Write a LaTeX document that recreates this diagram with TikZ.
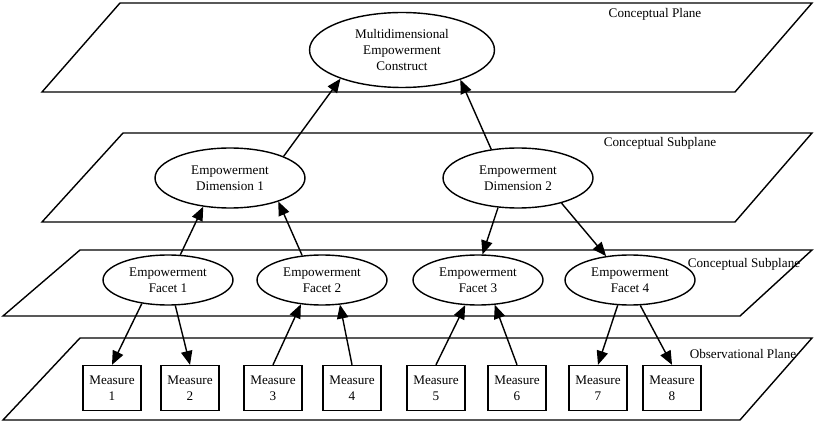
\documentclass[tikz,border=0pt]{standalone}
\usepackage{fontspec}
\setmainfont{Liberation Serif}
\usetikzlibrary{shapes,arrows}
\usetikzlibrary{positioning}

\tikzset{
  plane/.style={thick,fill=white},
  construct/.style={draw,thick,ellipse,align=center,inner sep=0pt,font=\fontsize{7.5}{9}\selectfont},
  measure/.style={draw,thick,rectangle,align=center,minimum width=1.16cm,minimum height=0.9cm,inner sep=1pt,font=\fontsize{7.5}{9}\selectfont},
  planelabel/.style={font=\fontsize{7.5}{9}\selectfont},
  link/.style={thick,-triangle 45}
}

\begin{document}
\begin{tikzpicture}[x=0.02cm,y=-0.02cm]
\useasboundingbox (0,0) rectangle (815,422);

% planes
\draw[plane] (120,3) -- (812,3) -- (735,92) -- (42,92) -- cycle;
\node[planelabel] (p1) at (655,14) {Conceptual Plane};
\draw[plane] (123,133) -- (812,133) -- (735,222) -- (42,222) -- cycle;
\node[planelabel] (p2) at (660,143) {Conceptual Subplane};
\draw[plane] (80,250) -- (812,250) -- (740,316) -- (3,316) -- cycle;
\node[planelabel] (p3) at (744,264) {Conceptual Subplane};
\draw[plane] (80,338) -- (812,338) -- (740,420) -- (3,420) -- cycle;
\node[planelabel] (p4) at (743,354) {Observational Plane};

% constructs
\node[construct,minimum width=3.7cm,minimum height=1.5cm] (m) at (402,50) {Multidimensional\\Empowerment\\Construct};
\node[construct,minimum width=3cm,minimum height=1.2cm] (d1) at (230,178) {Empowerment\\Dimension 1};
\node[construct,minimum width=3cm,minimum height=1.2cm] (d2) at (518,178) {Empowerment\\Dimension 2};
\foreach \i/\x in {1/168,2/322,3/478,4/630}
  \node[construct,minimum width=2.6cm,minimum height=1cm] (f\i) at (\x,280) {Empowerment\\Facet \i};
\foreach \i/\x in {1/112,2/190,3/273,4/352,5/436,6/517,7/598,8/672}
  \node[measure] (ms\i) at (\x,388) {Measure\\\i};

% arrows
\draw[link] (d1.22) -- (m.205);
\draw[link] (d2.133) -- (m.333);
\draw[link] (f1.64) -- (d1.227);
\draw[link] (f2.129) -- (d1.334);
\draw[link] (d2.236) -- (f3.80);
\draw[link] (d2.330) -- (f4.135);
\draw[link] (f1.222) -- (ms1.north);
\draw[link] (f1.286) -- (ms2.north);
\draw[link] (ms3.north) -- (f2.229);
\draw[link] (ms4.north) -- (f2.306);
\draw[link] (ms5.north) -- (f3.243);
\draw[link] (ms6.north) -- (f3.304);
\draw[link] (f4.244) -- (ms7.north);
\draw[link] (f4.292) -- (ms8.north);
\end{tikzpicture}
\end{document}
